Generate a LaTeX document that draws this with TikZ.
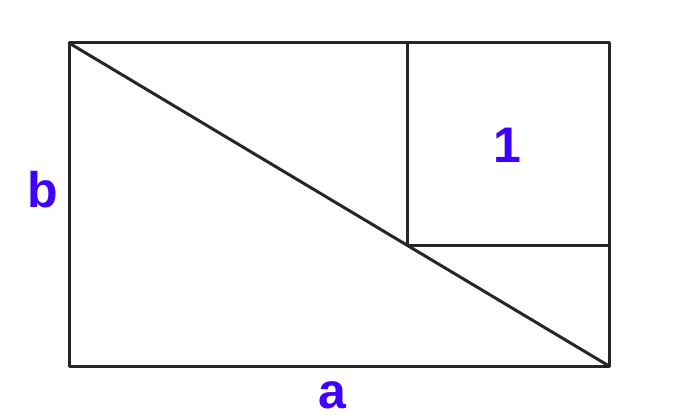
\documentclass[tikz,border=0pt]{standalone}
\usepackage{fontspec}
\setmainfont{Liberation Sans}
\definecolor{lblblue}{RGB}{64,0,255}
\begin{document}
\begin{tikzpicture}[x=1pt,y=-1pt,
  edge/.style={line width=3pt,draw=black!85,line cap=round,line join=round},
  lbl/.style={text=lblblue,font=\fontsize{50}{50}\selectfont\bfseries,inner sep=0pt,anchor=base}]
\useasboundingbox (0,0) rectangle (686,420);
\coordinate (tl) at (69,43);
\coordinate (tr) at (609,43);
\coordinate (br) at (609,366);
\coordinate (bl) at (69,366);
\coordinate (mt) at (407,43);
\coordinate (mc) at (407,245);
\coordinate (mr) at (609,245);
\draw[edge] (tl) -- (tr) -- (br) -- (bl) -- cycle;
\draw[edge] (mt) -- (mc) -- (mr);
\draw[edge] (tl) -- (br);
\node[lbl] (one) at (507,162) {1};
\node[lbl] (b) at (43,207) {b};
\node[lbl] (a) at (332,408) {a};
\end{tikzpicture}
\end{document}
